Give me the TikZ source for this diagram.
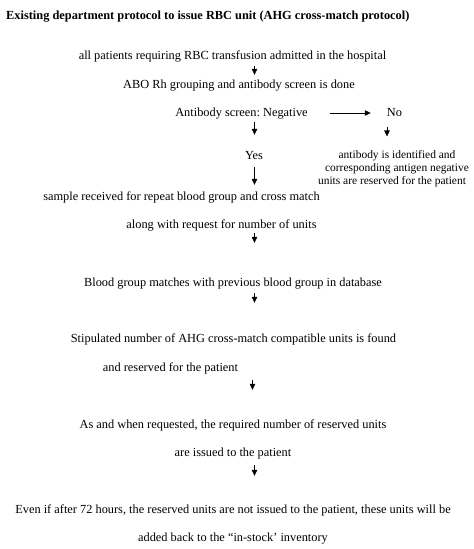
\documentclass[tikz,border=0pt]{standalone}
\usepackage{fontspec}
\setmainfont{Liberation Serif}
\usetikzlibrary{arrows.meta}
\frenchspacing
\begin{document}
\begin{tikzpicture}[x=1bp,y=-1bp,
  txt/.style={inner sep=0pt, anchor=base, text height=9bp, text depth=2.8bp, font=\fontsize{12.4}{14}\selectfont},
  small/.style={inner sep=0pt, anchor=base, text height=8.4bp, text depth=2.6bp, font=\fontsize{11.5}{13}\selectfont},
  arr/.style={line width=0.6bp, -{Triangle[length=6bp,width=5.5bp]}}]
\useasboundingbox (0,0) rectangle (474,549);
\node[txt, anchor=base west, font=\fontsize{12.4}{14}\selectfont\bfseries] (title) at (6,19.1) {Existing department protocol to issue RBC unit (AHG cross-match protocol)};
\coordinate (ax) at (254.5,0);
\coordinate (bx) at (387,0);
\node[txt] (all) at (232.5,59.6) {all patients requiring RBC transfusion admitted in the hospital};
\node[txt] (abo) at (239,88.1) {ABO Rh grouping and antibody screen is done};
\node[txt] (scr) at (241.5,116.1) {Antibody screen: Negative};
\node[txt] (no) at (394.5,116.1) {No};
\node[txt] (yes) at (254,159.1) {Yes};
\node[small] (anti1) at (397,158.8) {antibody is identified and};
\node[small] (anti2) at (397,171.8) {corresponding antigen negative};
\node[small] (anti3) at (392,184.8) {units are reserved for the patient};
\node[txt] (sample) at (181.5,200.1) {sample received for repeat blood group and cross match};
\node[txt] (along) at (221.5,228.1) {along with request for number of units};
\node[txt] (blood) at (233,286.1) {Blood group matches with previous blood group in database};
\node[txt] (stip) at (233.5,342.1) {Stipulated number of AHG cross-match compatible units is found};
\node[txt] (andres) at (170.5,371.1) {and reserved for the patient};
\node[txt] (asand) at (233,428.1) {As and when requested, the required number of reserved units};
\node[txt] (issued) at (233,456.1) {are issued to the patient};
\node[txt] (even) at (233,513.1) {Even if after 72 hours, the reserved units are not issued to the patient, these units will be};
\node[txt] (added) at (233,541.1) {added back to the ``in-stock' inventory};

\draw[arr, shorten <=3.6bp, shorten >=4.1bp] (all.south -| ax) -- (abo.north -| ax);
\draw[arr, shorten <=3.1bp, shorten >=15.1bp] (scr.south -| ax) -- (yes.north -| ax);
\draw[arr, shorten <=22bp, shorten >=16bp] (scr.east) -- (no.west);
\draw[arr, shorten <=8.1bp, shorten >=13.7bp] (no.south -| bx) -- (anti1.north -| bx);
\draw[arr, shorten <=5.1bp, shorten >=6.1bp] (yes.south -| ax) -- (sample.north -| ax);
\draw[arr, shorten <=2.1bp, shorten >=34.1bp] (along.south -| ax) -- (blood.north -| ax);
\draw[arr, shorten <=4.1bp, shorten >=30.1bp] (blood.south -| ax) -- (stip.north -| ax);
\draw[arr, shorten <=6.1bp, shorten >=29.1bp] ([xshift=-2bp]andres.south -| ax) -- ([xshift=-2bp]asand.north -| ax);
\draw[arr, shorten <=6.1bp, shorten >=28.1bp] (issued.south -| ax) -- (even.north -| ax);
\end{tikzpicture}
\end{document}
